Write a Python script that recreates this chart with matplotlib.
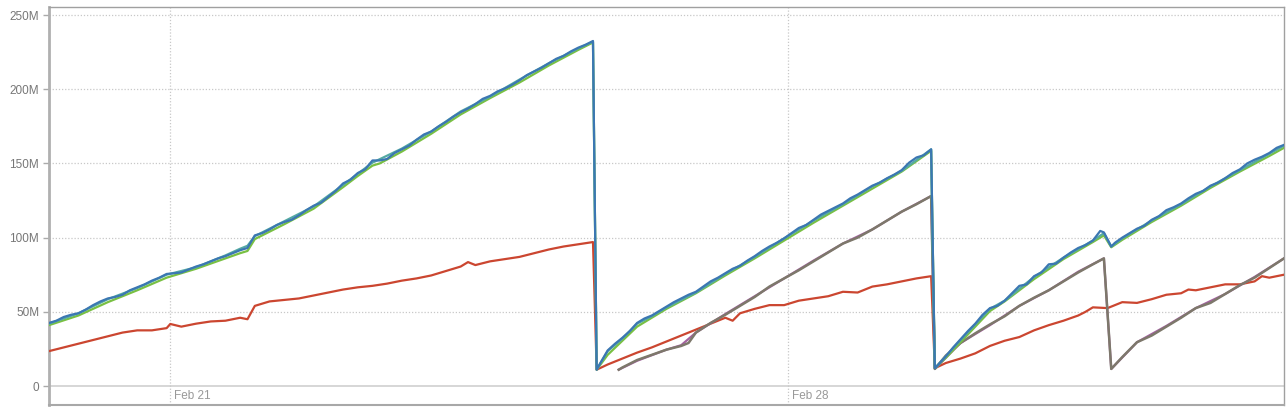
import matplotlib
matplotlib.use("Agg")
import matplotlib.pyplot as plt
import matplotlib.dates as mdates
import pandas as pd

# ---------------- data (hours after start, values in millions) ----------------
START = pd.Timestamp("2015-02-19 15:00")
SPAN_HOURS = 336
GRID_DAYS = ["2015-02-21", "2015-02-28"]
GRID_LABELS = ["Feb 21", "Feb 28"]
Y_TICKS = [0, 50, 100, 150, 200, 250]
Y_LABELS = ["0", "50M", "100M", "150M", "200M", "250M"]

blue_h = [0, 2, 4, 6, 8, 10, 12, 14, 16, 18, 20, 22, 24, 26, 28, 30, 32, 34, 36, 38, 40,
          42, 44, 46, 48, 50, 52, 54, 56, 58, 60, 62, 64, 66, 68, 70, 72, 74, 76, 78, 80,
          82, 84, 86, 88, 90, 92, 94, 96, 98, 100, 102, 104, 106, 108, 110, 112, 114, 116,
          118, 120, 122, 124, 126, 128, 130, 132, 134, 136, 138, 140, 142, 144, 146, 148,
          149,
          150, 152, 154, 156, 158, 160, 162, 164, 166, 168, 170, 172, 174, 176, 178, 180,
          182, 184, 186, 188, 190, 192, 194, 196, 198, 200, 202, 204, 206, 208, 210, 212,
          214, 216, 218, 220, 222, 224, 226, 228, 230, 232, 234, 236, 238, 240, 241,
          242, 244, 246, 248, 250, 252, 254, 256, 258, 260, 262, 264, 266, 268, 270, 272,
          274, 276, 278, 280, 282, 284, 286, 287, 289, 290, 292, 294, 296, 298, 300, 302,
          304, 306, 308, 310, 312, 314, 316, 318, 320, 322, 324, 326, 328, 330, 332, 334,
          336]
blue_v = [42.5, 44.0, 46.5, 48.0, 49.0, 51.5, 54.5, 57.0, 59.0, 60.0, 61.5, 64.5, 66.5,
          68.5, 71.0, 73.0, 75.5, 76.0, 76.5, 78.5, 80.5, 82.0, 84.0, 86.0, 87.5, 89.5,
          91.5, 93.0, 101.5, 103.0, 105.5, 108.5, 110.5, 112.0, 115.0, 118.5, 121.5, 123.5,
          127.5, 131.5, 136.5, 139.0, 143.5, 146.0, 152.0, 152.0, 153.0, 157.0, 159.5,
          162.0, 166.0, 169.5, 171.5, 175.0, 178.0, 181.5, 184.5, 187.0, 190.0, 193.5,
          195.5, 198.5, 200.5, 203.0, 206.0, 209.5, 212.0, 214.5, 217.5, 220.5, 222.5,
          225.5, 228.0, 230.0, 232.5, 11.0,
          15.5, 24.0, 28.5, 32.5, 37.0, 42.5, 45.5, 47.5, 50.5, 53.5, 56.5, 59.0, 61.5,
          63.5, 67.0, 70.5, 73.0, 76.0, 79.0, 81.0, 84.5, 87.5, 91.0, 94.0, 96.5, 99.5,
          103.0, 106.5, 108.5, 112.0, 115.5, 118.0, 120.5, 123.0, 126.5, 129.0, 132.0,
          135.0, 137.0, 140.0, 142.5, 145.5, 150.5, 154.0, 155.5, 159.5, 12.0,
          14.5, 20.0, 26.0, 31.5, 37.0, 42.0, 48.0, 52.5, 54.0, 57.5, 62.5, 67.5, 68.5,
          74.0, 76.5, 82.0, 82.5, 86.5, 90.0, 93.0, 95.0, 98.0, 104.5, 103.5, 94.0, 96.5,
          100.0, 103.0, 106.0, 108.0, 112.0, 114.5, 118.5, 120.5, 123.0, 126.5, 129.5,
          131.5, 135.0, 137.0, 140.0, 143.5, 146.0, 150.0, 152.5, 154.5, 157.0, 160.5,
          162.5]

teal_h = [0, 8, 16, 24, 32, 40, 48, 52, 54, 56, 64, 72, 80, 88, 96, 104, 112, 120, 128,
          136, 144, 148, 149,
          152, 156, 160, 164, 168, 176, 184, 192, 200, 208, 216, 224, 232, 240, 241,
          244, 248, 252, 256, 260, 268, 276, 284, 287, 289, 292, 300, 308, 316, 324, 332, 336]
teal_v = [42.0, 49.0, 58.5, 66.0, 75.0, 80.0, 88.0, 92.5, 94.5, 101.0, 111.0, 121.0, 135.5,
          150.5, 160.0, 171.5, 185.0, 195.0, 206.5, 217.5, 227.5, 232.0, 11.0,
          23.5, 32.0, 42.0, 47.0, 53.0, 63.0, 75.5, 87.0, 99.5, 111.5, 122.5, 134.5, 145.0,
          159.5, 12.0,
          20.0, 31.0, 41.5, 52.0, 57.5, 73.5, 86.5, 98.0, 103.0, 94.0, 99.5, 111.5, 122.5,
          134.5, 145.5, 156.5, 162.0]

green_h = [0, 8, 16, 24, 32, 40, 48, 52, 54, 56, 64, 72, 80, 84, 88, 90, 96, 104, 112, 120,
           128, 136, 144, 148, 149,
           152, 156, 160, 164, 168, 176, 184, 192, 200, 208, 216, 224, 232, 240, 241,
           244, 248, 252, 256, 260, 268, 276, 284, 287, 289, 292, 300, 308, 316, 324, 332, 336]
green_v = [41.0, 47.5, 56.5, 64.5, 73.0, 79.0, 86.0, 89.5, 91.0, 99.0, 109.0, 119.5, 134.0,
           141.5, 148.5, 150.0, 158.0, 170.0, 183.0, 194.0, 204.5, 216.0, 226.5, 231.5, 11.0,
           21.0, 30.5, 40.0, 46.0, 52.0, 62.5, 74.5, 86.0, 98.0, 110.0, 121.5, 133.0, 144.5,
           158.5, 12.0,
           19.0, 29.5, 40.0, 50.5, 57.0, 72.0, 85.5, 97.0, 101.5, 93.5, 98.5, 110.5, 121.5,
           133.5, 144.5, 155.0, 160.5]

red_h = [0, 4, 8, 12, 16, 20, 24, 28, 32, 33, 36, 40, 44, 48, 52, 54, 56, 60, 64, 68, 72,
         76, 80, 84, 88, 92, 96, 100, 104, 108, 112, 114, 116, 120, 124, 128, 132, 136, 140,
         144, 148, 149,
         152, 156, 160, 164, 168, 172, 176, 180, 184, 186, 188, 192, 196, 200, 204, 208,
         212, 216, 220, 224, 228, 232, 236, 240, 241,
         244, 248, 252, 256, 260, 264, 268, 272, 276, 280, 282, 284, 288, 292, 296, 300,
         304, 308, 310, 312, 316, 320, 324, 328, 330, 332, 336]
red_v = [23.5, 26.0, 28.5, 31.0, 33.5, 36.0, 37.5, 37.5, 39.0, 41.8, 40.0, 42.0, 43.5, 44.0,
         46.0, 45.0, 54.0, 57.0, 58.0, 59.0, 61.0, 63.0, 65.0, 66.5, 67.5, 69.0, 71.0, 72.5,
         74.5, 77.5, 80.5, 83.5, 81.5, 84.0, 85.5, 87.0, 89.5, 92.0, 94.0, 95.5, 97.0, 11.0,
         14.5, 18.5, 22.5, 26.0, 30.0, 34.0, 38.0, 42.0, 46.0, 44.0, 49.0, 52.0, 54.5, 54.5,
         57.5, 59.0, 60.5, 63.5, 63.0, 67.0, 68.5, 70.5, 72.5, 74.0, 12.0,
         15.5, 18.5, 22.0, 27.0, 30.5, 33.0, 37.5, 41.0, 44.0, 47.5, 50.0, 53.0, 52.5, 56.5,
         56.0, 58.5, 61.5, 62.5, 65.0, 64.5, 66.5, 68.5, 68.5, 70.5, 74.0, 73.0, 75.0]

gray_h = [155, 156, 160, 164, 168, 172, 174, 176, 180, 184, 188, 192, 196, 200, 204, 208,
          212, 216, 220, 224, 228, 232, 236, 240, 241,
          244, 248, 252, 256, 260, 264, 268, 272, 276, 280, 284, 287, 289, 292, 296, 300,
          304, 308, 312, 316, 320, 324, 328, 332, 336]
gray_v = [11.0, 12.5, 17.5, 21.0, 24.5, 27.0, 29.0, 36.0, 42.5, 48.0, 54.0, 60.0, 67.0,
          72.5, 78.0, 84.0, 90.0, 96.0, 100.0, 105.5, 111.5, 117.5, 122.5, 128.0, 11.5,
          20.5, 29.0, 35.5, 41.5, 47.0, 54.0, 59.5, 64.5, 70.5, 76.5, 82.0, 86.0, 11.5, 19.5,
          29.5, 34.0, 40.0, 46.0, 52.5, 56.0, 62.0, 68.0, 73.0, 79.5, 86.0]

purple_h = [155, 160, 168, 172, 176, 184, 192, 200, 208, 216, 224, 232, 240, 241, 248, 256,
            264, 272, 280, 287, 289, 296, 304, 312, 320, 328, 336]
purple_v = [11.0, 17.0, 24.5, 27.5, 36.0, 48.5, 60.5, 72.5, 84.5, 96.0, 105.5, 117.5, 128.0,
            11.5, 29.0, 41.0, 54.0, 64.5, 77.0, 86.0, 11.5, 29.5, 40.5, 52.5, 62.0, 73.5, 86.0]

# ---------------- drawing ----------------
plt.rcParams["font.family"] = ["Liberation Sans", "DejaVu Sans"]

W, H = 1286, 408
fig = plt.figure(figsize=(W / 100, H / 100), dpi=100)
ax = fig.add_axes([49 / W, 1 - 405 / H, (1284 - 49) / W, (405 - 7) / H])


def times(hours):
    return [START + pd.Timedelta(hours=h) for h in hours]


def vals(v):
    return [x * 1e6 for x in v]


LW = 1.6
ax.plot(times(red_h), vals(red_v), color="#cb4630", lw=LW, zorder=3)
ax.plot(times(purple_h), vals(purple_v), color="#a2629e", lw=LW, zorder=3.5)
ax.plot(times(gray_h), vals(gray_v), color="#7d786b", lw=LW + 0.2, zorder=4)
ax.plot(times(green_h), vals(green_v), color="#79c043", lw=LW, zorder=5)
ax.plot(times(teal_h), vals(teal_v), color="#55aaa3", lw=LW, zorder=6)
ax.plot(times(blue_h), vals(blue_v), color="#3b77b2", lw=LW, zorder=7)

ax.set_xlim(START, START + pd.Timedelta(hours=SPAN_HOURS))
ax.set_ylim(-12.8e6, 255.4e6)

# horizontal grid
for t in Y_TICKS:
    if t == 0:
        ax.axhline(0, color="#d0d0d0", lw=1.2, zorder=1)
    else:
        ax.axhline(t * 1e6, color="#c8c8c8", lw=0.9, ls=(0, (1, 1.5)), zorder=1)

# vertical grid + inside labels
for d, lab in zip(GRID_DAYS, GRID_LABELS):
    dt = pd.Timestamp(d)
    ax.axvline(dt, color="#c8c8c8", lw=0.9, ls=(0, (1, 1.5)), zorder=1)
    ax.annotate(lab, xy=(mdates.date2num(dt), -6.6e6), xytext=(3, 0),
                textcoords="offset points", ha="left", va="center",
                fontsize=8.5, color="#999999")

ax.set_yticks([t * 1e6 for t in Y_TICKS])
ax.set_yticklabels(Y_LABELS)
ax.tick_params(axis="y", length=4, width=1, color="#aaaaaa", labelcolor="#777777",
               labelsize=8.5, pad=3)
ax.set_xticks([])

for side in ["top", "right"]:
    ax.spines[side].set_color("#a0a0a0")
    ax.spines[side].set_linewidth(1.0)
ax.spines["left"].set_color("#b0b0b0")
ax.spines["left"].set_linewidth(2.0)
ax.spines["bottom"].set_color("#a8a8a8")
ax.spines["bottom"].set_linewidth(1.5)

fig.savefig("out.png", dpi=100)
